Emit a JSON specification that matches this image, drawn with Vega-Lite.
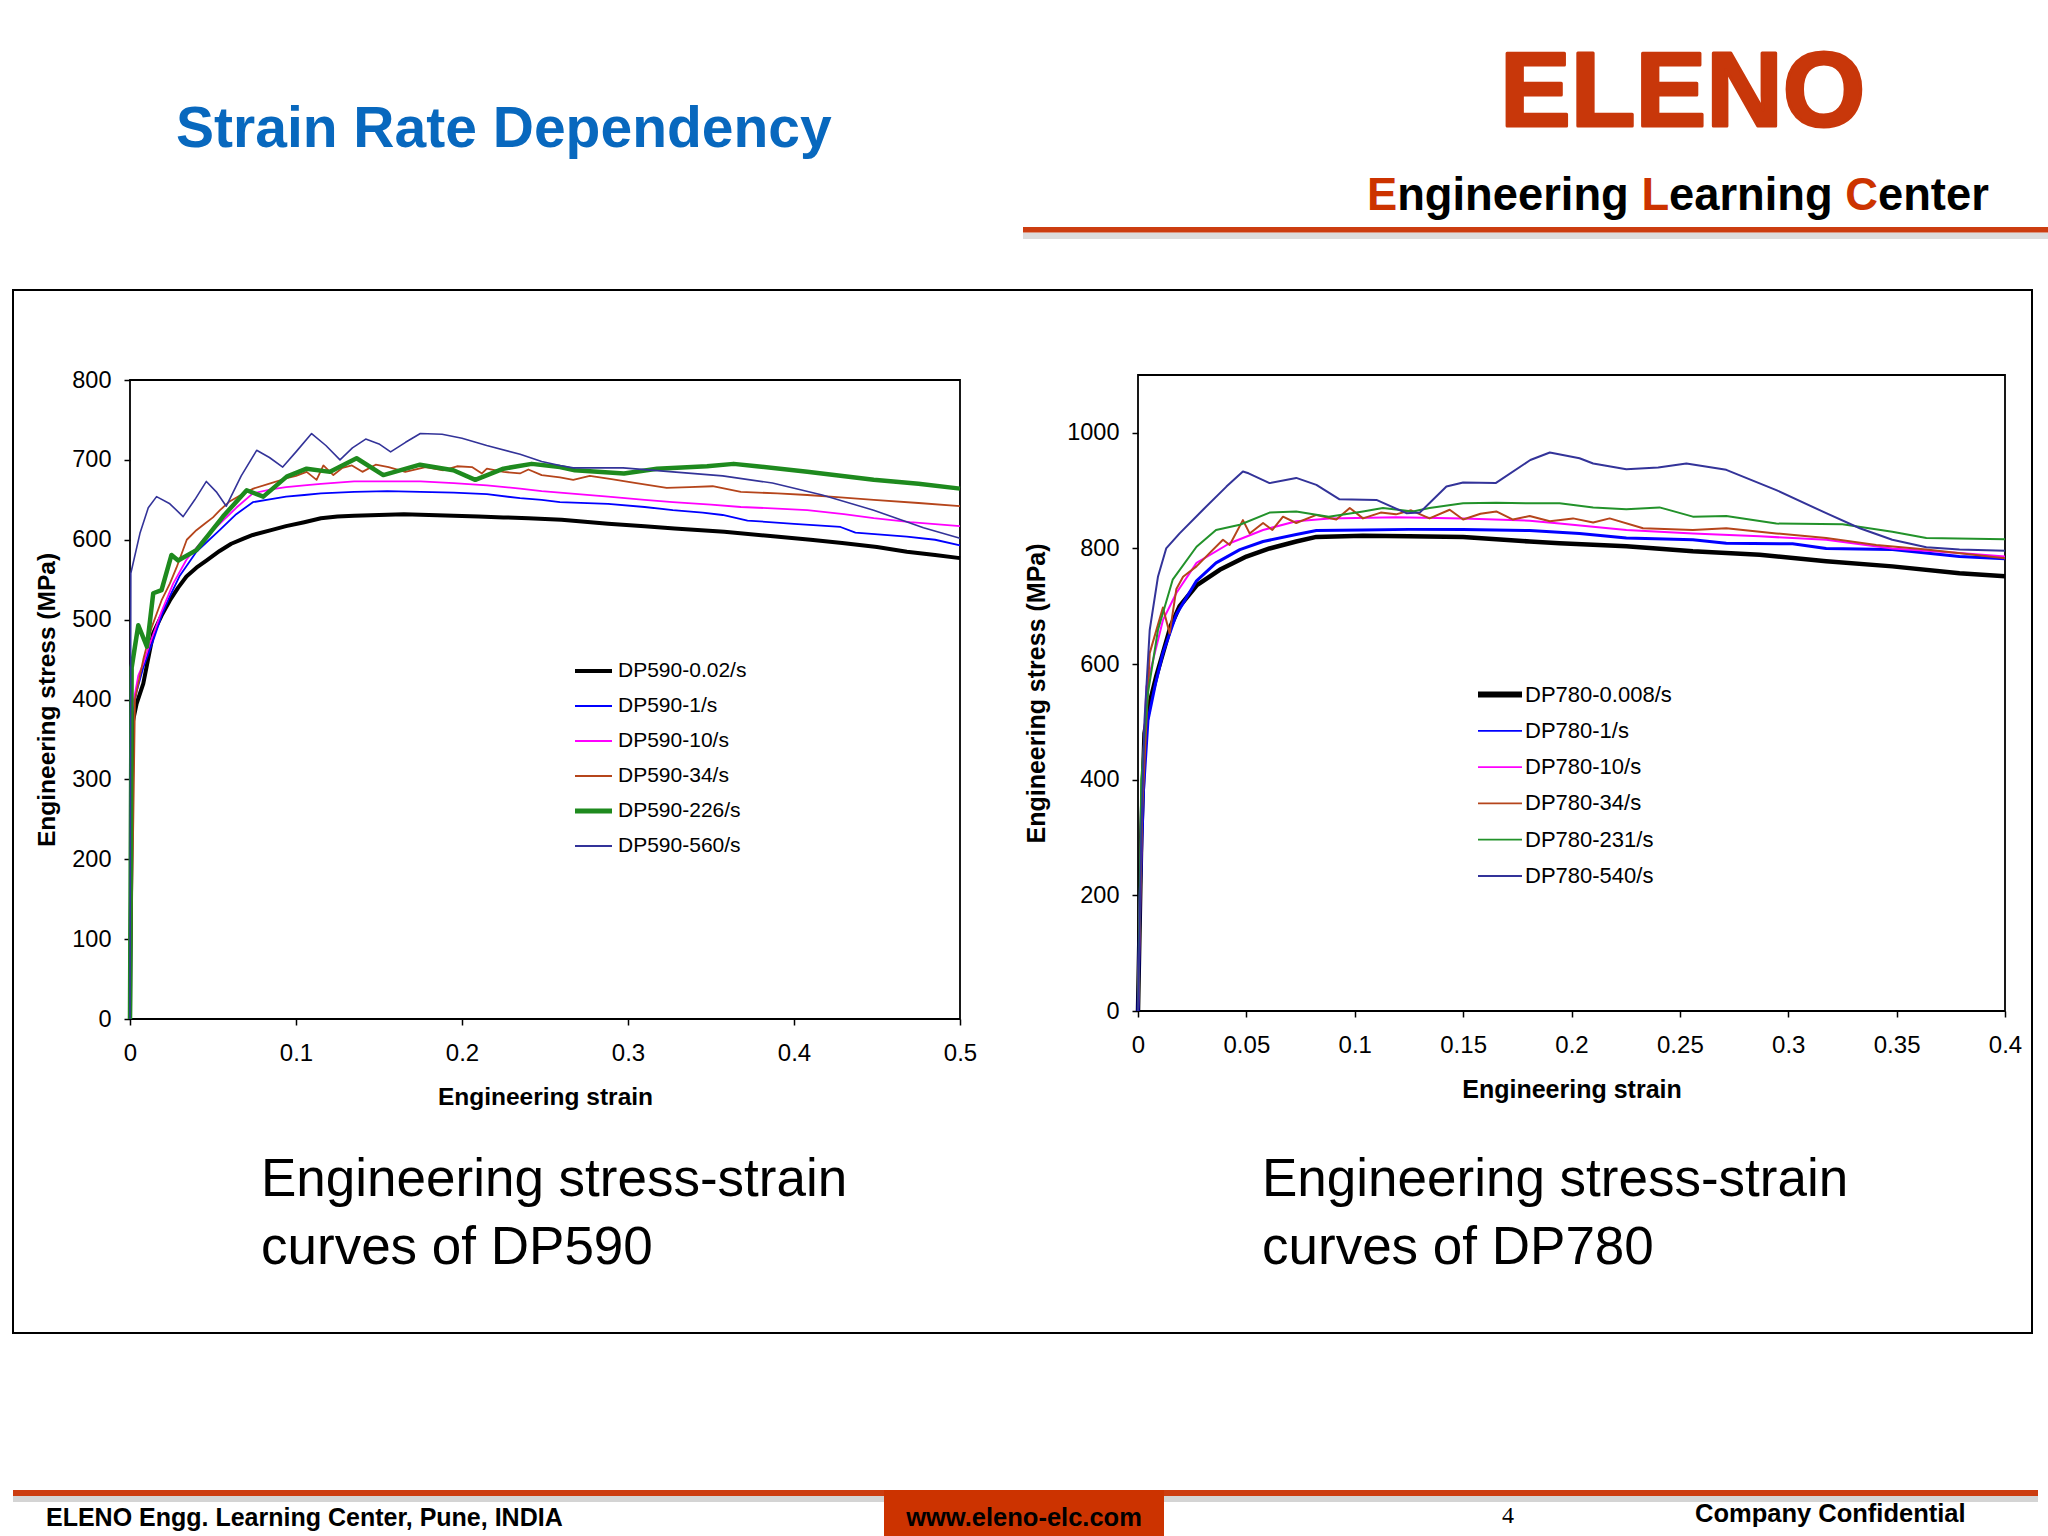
{
"$schema": "https://vega.github.io/schema/vega-lite/v6.json",
"width": 2048, "height": 1536, "autosize": "none", "padding": 0, "background": "white",
"config": {"view": {"stroke": null}, "font": "Liberation Sans"},
"datasets": {
"dp590": [
{"series":"DP590-0.02/s","strain":0,"stress":0},{"series":"DP590-0.02/s","strain":0.0015,"stress":370},{"series":"DP590-0.02/s","strain":0.004,"stress":395},{"series":"DP590-0.02/s","strain":0.008,"stress":420},{"series":"DP590-0.02/s","strain":0.014,"stress":483},{"series":"DP590-0.02/s","strain":0.019,"stress":505},{"series":"DP590-0.02/s","strain":0.024,"stress":524},{"series":"DP590-0.02/s","strain":0.029,"stress":540},{"series":"DP590-0.02/s","strain":0.034,"stress":554},{"series":"DP590-0.02/s","strain":0.04,"stress":565},{"series":"DP590-0.02/s","strain":0.046,"stress":574},{"series":"DP590-0.02/s","strain":0.054,"stress":586},{"series":"DP590-0.02/s","strain":0.061,"stress":595},{"series":"DP590-0.02/s","strain":0.068,"stress":601},{"series":"DP590-0.02/s","strain":0.074,"stress":606},{"series":"DP590-0.02/s","strain":0.085,"stress":612},{"series":"DP590-0.02/s","strain":0.094,"stress":617},{"series":"DP590-0.02/s","strain":0.105,"stress":622},{"series":"DP590-0.02/s","strain":0.115,"stress":627},{"series":"DP590-0.02/s","strain":0.125,"stress":629},{"series":"DP590-0.02/s","strain":0.135,"stress":630},{"series":"DP590-0.02/s","strain":0.15,"stress":631},{"series":"DP590-0.02/s","strain":0.165,"stress":632},{"series":"DP590-0.02/s","strain":0.18,"stress":631},{"series":"DP590-0.02/s","strain":0.195,"stress":630},{"series":"DP590-0.02/s","strain":0.21,"stress":629},{"series":"DP590-0.02/s","strain":0.225,"stress":628},{"series":"DP590-0.02/s","strain":0.24,"stress":627},{"series":"DP590-0.02/s","strain":0.26,"stress":625},{"series":"DP590-0.02/s","strain":0.288,"stress":620},{"series":"DP590-0.02/s","strain":0.31,"stress":617},{"series":"DP590-0.02/s","strain":0.328,"stress":614},{"series":"DP590-0.02/s","strain":0.358,"stress":610},{"series":"DP590-0.02/s","strain":0.389,"stress":604},{"series":"DP590-0.02/s","strain":0.41,"stress":600},{"series":"DP590-0.02/s","strain":0.429,"stress":596},{"series":"DP590-0.02/s","strain":0.45,"stress":591},{"series":"DP590-0.02/s","strain":0.468,"stress":585},{"series":"DP590-0.02/s","strain":0.485,"stress":581},{"series":"DP590-0.02/s","strain":0.5,"stress":577},
{"series":"DP590-1/s","strain":0,"stress":0},{"series":"DP590-1/s","strain":0.001,"stress":380},{"series":"DP590-1/s","strain":0.004,"stress":410},{"series":"DP590-1/s","strain":0.008,"stress":440},{"series":"DP590-1/s","strain":0.014,"stress":474},{"series":"DP590-1/s","strain":0.019,"stress":505},{"series":"DP590-1/s","strain":0.024,"stress":529},{"series":"DP590-1/s","strain":0.03,"stress":555},{"series":"DP590-1/s","strain":0.04,"stress":585},{"series":"DP590-1/s","strain":0.054,"stress":612},{"series":"DP590-1/s","strain":0.064,"stress":632},{"series":"DP590-1/s","strain":0.074,"stress":647},{"series":"DP590-1/s","strain":0.085,"stress":651},{"series":"DP590-1/s","strain":0.094,"stress":654},{"series":"DP590-1/s","strain":0.105,"stress":656},{"series":"DP590-1/s","strain":0.115,"stress":658},{"series":"DP590-1/s","strain":0.135,"stress":660},{"series":"DP590-1/s","strain":0.155,"stress":661},{"series":"DP590-1/s","strain":0.175,"stress":660},{"series":"DP590-1/s","strain":0.195,"stress":659},{"series":"DP590-1/s","strain":0.215,"stress":657},{"series":"DP590-1/s","strain":0.235,"stress":652},{"series":"DP590-1/s","strain":0.248,"stress":650},{"series":"DP590-1/s","strain":0.259,"stress":647},{"series":"DP590-1/s","strain":0.288,"stress":645},{"series":"DP590-1/s","strain":0.31,"stress":641},{"series":"DP590-1/s","strain":0.327,"stress":637},{"series":"DP590-1/s","strain":0.345,"stress":634},{"series":"DP590-1/s","strain":0.357,"stress":631},{"series":"DP590-1/s","strain":0.372,"stress":624},{"series":"DP590-1/s","strain":0.4,"stress":620},{"series":"DP590-1/s","strain":0.428,"stress":616},{"series":"DP590-1/s","strain":0.437,"stress":609},{"series":"DP590-1/s","strain":0.468,"stress":604},{"series":"DP590-1/s","strain":0.485,"stress":600},{"series":"DP590-1/s","strain":0.5,"stress":593},
{"series":"DP590-10/s","strain":0,"stress":0},{"series":"DP590-10/s","strain":0.0015,"stress":390},{"series":"DP590-10/s","strain":0.005,"stress":430},{"series":"DP590-10/s","strain":0.008,"stress":445},{"series":"DP590-10/s","strain":0.012,"stress":470},{"series":"DP590-10/s","strain":0.019,"stress":510},{"series":"DP590-10/s","strain":0.026,"stress":545},{"series":"DP590-10/s","strain":0.034,"stress":575},{"series":"DP590-10/s","strain":0.044,"stress":600},{"series":"DP590-10/s","strain":0.054,"stress":620},{"series":"DP590-10/s","strain":0.064,"stress":640},{"series":"DP590-10/s","strain":0.074,"stress":658},{"series":"DP590-10/s","strain":0.085,"stress":663},{"series":"DP590-10/s","strain":0.094,"stress":666},{"series":"DP590-10/s","strain":0.105,"stress":668},{"series":"DP590-10/s","strain":0.115,"stress":670},{"series":"DP590-10/s","strain":0.135,"stress":673},{"series":"DP590-10/s","strain":0.155,"stress":673},{"series":"DP590-10/s","strain":0.175,"stress":673},{"series":"DP590-10/s","strain":0.195,"stress":671},{"series":"DP590-10/s","strain":0.215,"stress":668},{"series":"DP590-10/s","strain":0.235,"stress":664},{"series":"DP590-10/s","strain":0.248,"stress":661},{"series":"DP590-10/s","strain":0.259,"stress":659},{"series":"DP590-10/s","strain":0.288,"stress":654},{"series":"DP590-10/s","strain":0.31,"stress":650},{"series":"DP590-10/s","strain":0.327,"stress":647},{"series":"DP590-10/s","strain":0.35,"stress":644},{"series":"DP590-10/s","strain":0.368,"stress":641},{"series":"DP590-10/s","strain":0.39,"stress":639},{"series":"DP590-10/s","strain":0.408,"stress":637},{"series":"DP590-10/s","strain":0.43,"stress":632},{"series":"DP590-10/s","strain":0.448,"stress":627},{"series":"DP590-10/s","strain":0.47,"stress":622},{"series":"DP590-10/s","strain":0.5,"stress":617},
{"series":"DP590-34/s","strain":0,"stress":0},{"series":"DP590-34/s","strain":0.002,"stress":250},{"series":"DP590-34/s","strain":0.003,"stress":400},{"series":"DP590-34/s","strain":0.008,"stress":450},{"series":"DP590-34/s","strain":0.013,"stress":490},{"series":"DP590-34/s","strain":0.019,"stress":524},{"series":"DP590-34/s","strain":0.024,"stress":545},{"series":"DP590-34/s","strain":0.028,"stress":565},{"series":"DP590-34/s","strain":0.0342,"stress":600},{"series":"DP590-34/s","strain":0.04,"stress":612},{"series":"DP590-34/s","strain":0.045,"stress":620},{"series":"DP590-34/s","strain":0.05,"stress":628},{"series":"DP590-34/s","strain":0.0542,"stress":637},{"series":"DP590-34/s","strain":0.06,"stress":648},{"series":"DP590-34/s","strain":0.066,"stress":655},{"series":"DP590-34/s","strain":0.0743,"stress":664},{"series":"DP590-34/s","strain":0.085,"stress":671},{"series":"DP590-34/s","strain":0.0944,"stress":677},{"series":"DP590-34/s","strain":0.1,"stress":680},{"series":"DP590-34/s","strain":0.1064,"stress":685},{"series":"DP590-34/s","strain":0.1124,"stress":675},{"series":"DP590-34/s","strain":0.1165,"stress":693},{"series":"DP590-34/s","strain":0.1225,"stress":681},{"series":"DP590-34/s","strain":0.128,"stress":690},{"series":"DP590-34/s","strain":0.1337,"stress":693},{"series":"DP590-34/s","strain":0.14,"stress":685},{"series":"DP590-34/s","strain":0.148,"stress":694},{"series":"DP590-34/s","strain":0.1558,"stress":691},{"series":"DP590-34/s","strain":0.1658,"stress":685},{"series":"DP590-34/s","strain":0.178,"stress":691},{"series":"DP590-34/s","strain":0.1888,"stress":687},{"series":"DP590-34/s","strain":0.197,"stress":692},{"series":"DP590-34/s","strain":0.206,"stress":691},{"series":"DP590-34/s","strain":0.212,"stress":683},{"series":"DP590-34/s","strain":0.215,"stress":689},{"series":"DP590-34/s","strain":0.225,"stress":685},{"series":"DP590-34/s","strain":0.2349,"stress":683},{"series":"DP590-34/s","strain":0.24,"stress":688},{"series":"DP590-34/s","strain":0.248,"stress":681},{"series":"DP590-34/s","strain":0.259,"stress":678},{"series":"DP590-34/s","strain":0.267,"stress":675},{"series":"DP590-34/s","strain":0.277,"stress":680},{"series":"DP590-34/s","strain":0.29,"stress":676},{"series":"DP590-34/s","strain":0.305,"stress":671},{"series":"DP590-34/s","strain":0.3233,"stress":665},{"series":"DP590-34/s","strain":0.337,"stress":666},{"series":"DP590-34/s","strain":0.351,"stress":667},{"series":"DP590-34/s","strain":0.368,"stress":660},{"series":"DP590-34/s","strain":0.39,"stress":658},{"series":"DP590-34/s","strain":0.408,"stress":656},{"series":"DP590-34/s","strain":0.428,"stress":653},{"series":"DP590-34/s","strain":0.448,"stress":650},{"series":"DP590-34/s","strain":0.475,"stress":646},{"series":"DP590-34/s","strain":0.5,"stress":642},
{"series":"DP590-226/s","strain":0,"stress":0},{"series":"DP590-226/s","strain":0.001,"stress":440},{"series":"DP590-226/s","strain":0.005,"stress":493},{"series":"DP590-226/s","strain":0.0102,"stress":466},{"series":"DP590-226/s","strain":0.014,"stress":533},{"series":"DP590-226/s","strain":0.019,"stress":537},{"series":"DP590-226/s","strain":0.025,"stress":581},{"series":"DP590-226/s","strain":0.029,"stress":574},{"series":"DP590-226/s","strain":0.04,"stress":587},{"series":"DP590-226/s","strain":0.048,"stress":608},{"series":"DP590-226/s","strain":0.056,"stress":629},{"series":"DP590-226/s","strain":0.0703,"stress":662},{"series":"DP590-226/s","strain":0.0803,"stress":654},{"series":"DP590-226/s","strain":0.0944,"stress":679},{"series":"DP590-226/s","strain":0.1064,"stress":689},{"series":"DP590-226/s","strain":0.1205,"stress":685},{"series":"DP590-226/s","strain":0.1365,"stress":702},{"series":"DP590-226/s","strain":0.1526,"stress":681},{"series":"DP590-226/s","strain":0.1747,"stress":694},{"series":"DP590-226/s","strain":0.1948,"stress":687},{"series":"DP590-226/s","strain":0.208,"stress":675},{"series":"DP590-226/s","strain":0.225,"stress":689},{"series":"DP590-226/s","strain":0.242,"stress":695},{"series":"DP590-226/s","strain":0.259,"stress":691},{"series":"DP590-226/s","strain":0.268,"stress":687},{"series":"DP590-226/s","strain":0.2976,"stress":683},{"series":"DP590-226/s","strain":0.3175,"stress":689},{"series":"DP590-226/s","strain":0.3476,"stress":692},{"series":"DP590-226/s","strain":0.3637,"stress":695},{"series":"DP590-226/s","strain":0.3775,"stress":692},{"series":"DP590-226/s","strain":0.408,"stress":685},{"series":"DP590-226/s","strain":0.448,"stress":675},{"series":"DP590-226/s","strain":0.475,"stress":670},{"series":"DP590-226/s","strain":0.5,"stress":664},
{"series":"DP590-560/s","strain":0,"stress":0},{"series":"DP590-560/s","strain":0.0005,"stress":558},{"series":"DP590-560/s","strain":0.006,"stress":608},{"series":"DP590-560/s","strain":0.011,"stress":640},{"series":"DP590-560/s","strain":0.016,"stress":654},{"series":"DP590-560/s","strain":0.024,"stress":645},{"series":"DP590-560/s","strain":0.032,"stress":629},{"series":"DP590-560/s","strain":0.039,"stress":650},{"series":"DP590-560/s","strain":0.046,"stress":673},{"series":"DP590-560/s","strain":0.052,"stress":660},{"series":"DP590-560/s","strain":0.058,"stress":642},{"series":"DP590-560/s","strain":0.067,"stress":680},{"series":"DP590-560/s","strain":0.0763,"stress":712},{"series":"DP590-560/s","strain":0.084,"stress":703},{"series":"DP590-560/s","strain":0.092,"stress":691},{"series":"DP590-560/s","strain":0.1,"stress":710},{"series":"DP590-560/s","strain":0.1094,"stress":733},{"series":"DP590-560/s","strain":0.118,"stress":718},{"series":"DP590-560/s","strain":0.1265,"stress":700},{"series":"DP590-560/s","strain":0.134,"stress":715},{"series":"DP590-560/s","strain":0.142,"stress":726},{"series":"DP590-560/s","strain":0.15,"stress":720},{"series":"DP590-560/s","strain":0.157,"stress":710},{"series":"DP590-560/s","strain":0.166,"stress":722},{"series":"DP590-560/s","strain":0.1749,"stress":733},{"series":"DP590-560/s","strain":0.188,"stress":732},{"series":"DP590-560/s","strain":0.2,"stress":727},{"series":"DP590-560/s","strain":0.2149,"stress":718},{"series":"DP590-560/s","strain":0.235,"stress":707},{"series":"DP590-560/s","strain":0.248,"stress":698},{"series":"DP590-560/s","strain":0.259,"stress":693},{"series":"DP590-560/s","strain":0.267,"stress":690},{"series":"DP590-560/s","strain":0.297,"stress":690},{"series":"DP590-560/s","strain":0.327,"stress":685},{"series":"DP590-560/s","strain":0.357,"stress":680},{"series":"DP590-560/s","strain":0.387,"stress":671},{"series":"DP590-560/s","strain":0.417,"stress":656},{"series":"DP590-560/s","strain":0.448,"stress":637},{"series":"DP590-560/s","strain":0.478,"stress":615},{"series":"DP590-560/s","strain":0.5,"stress":602}
],
"dp780": [
{"series":"DP780-0.008/s","strain":0,"stress":0},{"series":"DP780-0.008/s","strain":0.0015,"stress":300},{"series":"DP780-0.008/s","strain":0.003,"stress":480},{"series":"DP780-0.008/s","strain":0.0054,"stress":533},{"series":"DP780-0.008/s","strain":0.0085,"stress":580},{"series":"DP780-0.008/s","strain":0.0115,"stress":619},{"series":"DP780-0.008/s","strain":0.015,"stress":665},{"series":"DP780-0.008/s","strain":0.0192,"stress":700},{"series":"DP780-0.008/s","strain":0.027,"stress":736},{"series":"DP780-0.008/s","strain":0.0377,"stress":763},{"series":"DP780-0.008/s","strain":0.05,"stress":786},{"series":"DP780-0.008/s","strain":0.0607,"stress":800},{"series":"DP780-0.008/s","strain":0.073,"stress":812},{"series":"DP780-0.008/s","strain":0.0823,"stress":820},{"series":"DP780-0.008/s","strain":0.1038,"stress":822},{"series":"DP780-0.008/s","strain":0.125,"stress":821},{"series":"DP780-0.008/s","strain":0.15,"stress":820},{"series":"DP780-0.008/s","strain":0.1653,"stress":816},{"series":"DP780-0.008/s","strain":0.1807,"stress":812},{"series":"DP780-0.008/s","strain":0.1945,"stress":809},{"series":"DP780-0.008/s","strain":0.2253,"stress":804},{"series":"DP780-0.008/s","strain":0.256,"stress":795},{"series":"DP780-0.008/s","strain":0.2868,"stress":789},{"series":"DP780-0.008/s","strain":0.3175,"stress":778},{"series":"DP780-0.008/s","strain":0.348,"stress":769},{"series":"DP780-0.008/s","strain":0.379,"stress":757},{"series":"DP780-0.008/s","strain":0.4,"stress":752},
{"series":"DP780-1/s","strain":0,"stress":0},{"series":"DP780-1/s","strain":0.001,"stress":200},{"series":"DP780-1/s","strain":0.0025,"stress":380},{"series":"DP780-1/s","strain":0.0046,"stress":503},{"series":"DP780-1/s","strain":0.008,"stress":565},{"series":"DP780-1/s","strain":0.0115,"stress":619},{"series":"DP780-1/s","strain":0.0177,"stress":686},{"series":"DP780-1/s","strain":0.027,"stress":744},{"series":"DP780-1/s","strain":0.036,"stress":775},{"series":"DP780-1/s","strain":0.047,"stress":798},{"series":"DP780-1/s","strain":0.0577,"stress":812},{"series":"DP780-1/s","strain":0.073,"stress":824},{"series":"DP780-1/s","strain":0.0823,"stress":831},{"series":"DP780-1/s","strain":0.1038,"stress":832},{"series":"DP780-1/s","strain":0.125,"stress":833},{"series":"DP780-1/s","strain":0.15,"stress":833},{"series":"DP780-1/s","strain":0.1807,"stress":831},{"series":"DP780-1/s","strain":0.2037,"stress":826},{"series":"DP780-1/s","strain":0.2253,"stress":818},{"series":"DP780-1/s","strain":0.256,"stress":815},{"series":"DP780-1/s","strain":0.2714,"stress":809},{"series":"DP780-1/s","strain":0.302,"stress":808},{"series":"DP780-1/s","strain":0.3175,"stress":800},{"series":"DP780-1/s","strain":0.348,"stress":798},{"series":"DP780-1/s","strain":0.379,"stress":786},{"series":"DP780-1/s","strain":0.4,"stress":782},
{"series":"DP780-10/s","strain":0,"stress":0},{"series":"DP780-10/s","strain":0.0015,"stress":350},{"series":"DP780-10/s","strain":0.0039,"stress":561},{"series":"DP780-10/s","strain":0.0115,"stress":676},{"series":"DP780-10/s","strain":0.0177,"stress":723},{"series":"DP780-10/s","strain":0.027,"stress":775},{"series":"DP780-10/s","strain":0.0423,"stress":809},{"series":"DP780-10/s","strain":0.0577,"stress":832},{"series":"DP780-10/s","strain":0.073,"stress":847},{"series":"DP780-10/s","strain":0.0884,"stress":852},{"series":"DP780-10/s","strain":0.119,"stress":854},{"series":"DP780-10/s","strain":0.15,"stress":852},{"series":"DP780-10/s","strain":0.1807,"stress":848},{"series":"DP780-10/s","strain":0.1945,"stress":843},{"series":"DP780-10/s","strain":0.2253,"stress":832},{"series":"DP780-10/s","strain":0.256,"stress":826},{"series":"DP780-10/s","strain":0.2868,"stress":821},{"series":"DP780-10/s","strain":0.3175,"stress":815},{"series":"DP780-10/s","strain":0.348,"stress":800},{"series":"DP780-10/s","strain":0.379,"stress":792},{"series":"DP780-10/s","strain":0.4,"stress":786},
{"series":"DP780-34/s","strain":0,"stress":0},{"series":"DP780-34/s","strain":0.002,"stress":350},{"series":"DP780-34/s","strain":0.0054,"stress":619},{"series":"DP780-34/s","strain":0.0115,"stress":698},{"series":"DP780-34/s","strain":0.0146,"stress":653},{"series":"DP780-34/s","strain":0.0177,"stress":730},{"series":"DP780-34/s","strain":0.0208,"stress":751},{"series":"DP780-34/s","strain":0.027,"stress":769},{"series":"DP780-34/s","strain":0.033,"stress":792},{"series":"DP780-34/s","strain":0.0392,"stress":815},{"series":"DP780-34/s","strain":0.0423,"stress":806},{"series":"DP780-34/s","strain":0.0484,"stress":849},{"series":"DP780-34/s","strain":0.0515,"stress":826},{"series":"DP780-34/s","strain":0.0577,"stress":844},{"series":"DP780-34/s","strain":0.062,"stress":832},{"series":"DP780-34/s","strain":0.0669,"stress":855},{"series":"DP780-34/s","strain":0.073,"stress":844},{"series":"DP780-34/s","strain":0.0823,"stress":858},{"series":"DP780-34/s","strain":0.0915,"stress":850},{"series":"DP780-34/s","strain":0.0977,"stress":870},{"series":"DP780-34/s","strain":0.1038,"stress":852},{"series":"DP780-34/s","strain":0.112,"stress":862},{"series":"DP780-34/s","strain":0.119,"stress":859},{"series":"DP780-34/s","strain":0.126,"stress":866},{"series":"DP780-34/s","strain":0.1345,"stress":852},{"series":"DP780-34/s","strain":0.1438,"stress":867},{"series":"DP780-34/s","strain":0.15,"stress":850},{"series":"DP780-34/s","strain":0.158,"stress":860},{"series":"DP780-34/s","strain":0.1653,"stress":864},{"series":"DP780-34/s","strain":0.173,"stress":850},{"series":"DP780-34/s","strain":0.1807,"stress":856},{"series":"DP780-34/s","strain":0.19,"stress":847},{"series":"DP780-34/s","strain":0.2007,"stress":852},{"series":"DP780-34/s","strain":0.21,"stress":845},{"series":"DP780-34/s","strain":0.2176,"stress":852},{"series":"DP780-34/s","strain":0.233,"stress":835},{"series":"DP780-34/s","strain":0.256,"stress":832},{"series":"DP780-34/s","strain":0.2714,"stress":835},{"series":"DP780-34/s","strain":0.2945,"stress":826},{"series":"DP780-34/s","strain":0.3175,"stress":818},{"series":"DP780-34/s","strain":0.3406,"stress":806},{"series":"DP780-34/s","strain":0.3637,"stress":798},{"series":"DP780-34/s","strain":0.4,"stress":783},
{"series":"DP780-231/s","strain":0,"stress":0},{"series":"DP780-231/s","strain":0.0015,"stress":400},{"series":"DP780-231/s","strain":0.0046,"stress":550},{"series":"DP780-231/s","strain":0.0092,"stress":659},{"series":"DP780-231/s","strain":0.016,"stress":746},{"series":"DP780-231/s","strain":0.027,"stress":803},{"series":"DP780-231/s","strain":0.036,"stress":832},{"series":"DP780-231/s","strain":0.047,"stress":841},{"series":"DP780-231/s","strain":0.0607,"stress":862},{"series":"DP780-231/s","strain":0.073,"stress":864},{"series":"DP780-231/s","strain":0.088,"stress":855},{"series":"DP780-231/s","strain":0.1038,"stress":864},{"series":"DP780-231/s","strain":0.113,"stress":870},{"series":"DP780-231/s","strain":0.1268,"stress":864},{"series":"DP780-231/s","strain":0.1345,"stress":870},{"series":"DP780-231/s","strain":0.15,"stress":878},{"series":"DP780-231/s","strain":0.1653,"stress":879},{"series":"DP780-231/s","strain":0.1807,"stress":878},{"series":"DP780-231/s","strain":0.1945,"stress":878},{"series":"DP780-231/s","strain":0.21,"stress":871},{"series":"DP780-231/s","strain":0.2253,"stress":868},{"series":"DP780-231/s","strain":0.2406,"stress":871},{"series":"DP780-231/s","strain":0.256,"stress":855},{"series":"DP780-231/s","strain":0.2714,"stress":856},{"series":"DP780-231/s","strain":0.2945,"stress":843},{"series":"DP780-231/s","strain":0.325,"stress":842},{"series":"DP780-231/s","strain":0.348,"stress":829},{"series":"DP780-231/s","strain":0.3637,"stress":818},{"series":"DP780-231/s","strain":0.4,"stress":816},
{"series":"DP780-540/s","strain":0,"stress":0},{"series":"DP780-540/s","strain":0.0015,"stress":300},{"series":"DP780-540/s","strain":0.003,"stress":503},{"series":"DP780-540/s","strain":0.0054,"stress":659},{"series":"DP780-540/s","strain":0.0092,"stress":751},{"series":"DP780-540/s","strain":0.013,"stress":800},{"series":"DP780-540/s","strain":0.0192,"stress":826},{"series":"DP780-540/s","strain":0.03,"stress":867},{"series":"DP780-540/s","strain":0.0408,"stress":907},{"series":"DP780-540/s","strain":0.0484,"stress":933},{"series":"DP780-540/s","strain":0.051,"stress":930},{"series":"DP780-540/s","strain":0.0607,"stress":913},{"series":"DP780-540/s","strain":0.073,"stress":922},{"series":"DP780-540/s","strain":0.0823,"stress":910},{"series":"DP780-540/s","strain":0.093,"stress":885},{"series":"DP780-540/s","strain":0.11,"stress":884},{"series":"DP780-540/s","strain":0.1238,"stress":861},{"series":"DP780-540/s","strain":0.13,"stress":862},{"series":"DP780-540/s","strain":0.1423,"stress":907},{"series":"DP780-540/s","strain":0.15,"stress":914},{"series":"DP780-540/s","strain":0.165,"stress":913},{"series":"DP780-540/s","strain":0.181,"stress":953},{"series":"DP780-540/s","strain":0.19,"stress":966},{"series":"DP780-540/s","strain":0.2037,"stress":956},{"series":"DP780-540/s","strain":0.21,"stress":947},{"series":"DP780-540/s","strain":0.2253,"stress":937},{"series":"DP780-540/s","strain":0.24,"stress":940},{"series":"DP780-540/s","strain":0.253,"stress":947},{"series":"DP780-540/s","strain":0.2714,"stress":936},{"series":"DP780-540/s","strain":0.2945,"stress":901},{"series":"DP780-540/s","strain":0.3175,"stress":861},{"series":"DP780-540/s","strain":0.333,"stress":835},{"series":"DP780-540/s","strain":0.348,"stress":815},{"series":"DP780-540/s","strain":0.3637,"stress":802},{"series":"DP780-540/s","strain":0.379,"stress":798},{"series":"DP780-540/s","strain":0.4,"stress":796}
]
},
"layer": [
{"data": {"values": [{}]},
 "layer": [
  {"mark": {"type": "text", "x": 176, "y": 147, "text": "Strain Rate Dependency", "font": "Liberation Sans", "fontWeight": "bold", "fontSize": 57, "fill": "#0868BE", "align": "left", "baseline": "alphabetic"}, "encoding": {}},
  {"mark": {"type": "text", "x": 1500, "y": 126, "text": "ELENO", "font": "Liberation Sans", "fontWeight": "bold", "fontSize": 106, "fill": "#C8370A", "stroke": "#C8370A", "strokeWidth": 3, "strokeJoin": "round", "align": "left", "baseline": "alphabetic"}, "encoding": {}},
  {"mark": {"type": "text", "x": 1367, "y": 210, "text": "E", "font": "Liberation Sans", "fontWeight": "bold", "fontSize": 45.3, "fill": "#CC3300", "align": "left", "baseline": "alphabetic"}, "encoding": {}},
  {"mark": {"type": "text", "x": 1397.2, "y": 210, "text": "ngineering", "font": "Liberation Sans", "fontWeight": "bold", "fontSize": 45.3, "fill": "#000000", "align": "left", "baseline": "alphabetic"}, "encoding": {}},
  {"mark": {"type": "text", "x": 1641.4, "y": 210, "text": "L", "font": "Liberation Sans", "fontWeight": "bold", "fontSize": 45.3, "fill": "#CC3300", "align": "left", "baseline": "alphabetic"}, "encoding": {}},
  {"mark": {"type": "text", "x": 1669.1, "y": 210, "text": "earning", "font": "Liberation Sans", "fontWeight": "bold", "fontSize": 45.3, "fill": "#000000", "align": "left", "baseline": "alphabetic"}, "encoding": {}},
  {"mark": {"type": "text", "x": 1845.3, "y": 210, "text": "C", "font": "Liberation Sans", "fontWeight": "bold", "fontSize": 45.3, "fill": "#CC3300", "align": "left", "baseline": "alphabetic"}, "encoding": {}},
  {"mark": {"type": "text", "x": 1878, "y": 210, "text": "enter", "font": "Liberation Sans", "fontWeight": "bold", "fontSize": 45.3, "fill": "#000000", "align": "left", "baseline": "alphabetic"}, "encoding": {}},
  {"mark": {"type": "rect", "x": 1023, "x2": 2048, "y": 232.5, "y2": 239, "fill": "#dcdcdc"}, "encoding": {}},
  {"mark": {"type": "rect", "x": 1023, "x2": 2048, "y": 227, "y2": 232.5, "fill": "#CC3D10"}, "encoding": {}},
  {"mark": {"type": "rect", "x": 13, "x2": 2032, "y": 290, "y2": 1333, "filled": false, "stroke": "#000000", "strokeWidth": 2}, "encoding": {}},
  {"mark": {"type": "text", "x": 261, "y": 1196, "text": "Engineering stress-strain", "font": "Liberation Sans", "fontSize": 53, "fill": "#000000", "align": "left", "baseline": "alphabetic"}, "encoding": {}},
  {"mark": {"type": "text", "x": 261, "y": 1264, "text": "curves of DP590", "font": "Liberation Sans", "fontSize": 53, "fill": "#000000", "align": "left", "baseline": "alphabetic"}, "encoding": {}},
  {"mark": {"type": "text", "x": 1262, "y": 1196, "text": "Engineering stress-strain", "font": "Liberation Sans", "fontSize": 53, "fill": "#000000", "align": "left", "baseline": "alphabetic"}, "encoding": {}},
  {"mark": {"type": "text", "x": 1262, "y": 1264, "text": "curves of DP780", "font": "Liberation Sans", "fontSize": 53, "fill": "#000000", "align": "left", "baseline": "alphabetic"}, "encoding": {}},
  {"mark": {"type": "rect", "x": 13, "x2": 2038, "y": 1496, "y2": 1502, "fill": "#d4d4d4"}, "encoding": {}},
  {"mark": {"type": "rect", "x": 13, "x2": 2038, "y": 1490, "y2": 1496, "fill": "#CC3D10"}, "encoding": {}},
  {"mark": {"type": "rect", "x": 884, "x2": 1164, "y": 1490, "y2": 1536, "fill": "#CC3300"}, "encoding": {}},
  {"mark": {"type": "text", "x": 46, "y": 1526, "text": "ELENO Engg. Learning Center, Pune, INDIA", "font": "Liberation Sans", "fontWeight": "bold", "fontSize": 25, "fill": "#000000", "align": "left", "baseline": "alphabetic"}, "encoding": {}},
  {"mark": {"type": "text", "x": 1024, "y": 1526, "text": "www.eleno-elc.com", "font": "Liberation Sans", "fontWeight": "bold", "fontSize": 25.5, "fill": "#000000", "align": "center", "baseline": "alphabetic"}, "encoding": {}},
  {"mark": {"type": "text", "x": 1508, "y": 1523, "text": "4", "font": "Liberation Serif", "fontSize": 24, "fill": "#000000", "align": "center", "baseline": "alphabetic"}, "encoding": {}},
  {"mark": {"type": "text", "x": 1695, "y": 1522, "text": "Company Confidential", "font": "Liberation Sans", "fontWeight": "bold", "fontSize": 25.5, "fill": "#000000", "align": "left", "baseline": "alphabetic"}, "encoding": {}}
 ]
},
{"data": {"values": [{}]},
 "mark": {"type": "rect", "filled": false, "stroke": "#000000", "strokeWidth": 1.8},
 "encoding": {
   "x": {"datum": 0, "type": "quantitative", "scale": {"domain": [0, 0.5], "range": [130, 960], "nice": false, "zero": false}, "axis": null},
   "x2": {"datum": 0.5},
   "y": {"datum": 0, "type": "quantitative", "scale": {"domain": [0, 800], "range": [1019, 380], "nice": false, "zero": false}, "axis": null},
   "y2": {"datum": 800}
 }},
{"data": {"name": "dp590"},
 "mark": {"type": "line", "strokeJoin": "round"},
 "encoding": {
   "x": {"field": "strain", "type": "quantitative",
     "scale": {"domain": [0, 0.5], "range": [130, 960], "nice": false, "zero": false},
     "axis": {"orient": "bottom", "offset": -517, "values": [0, 0.1, 0.2, 0.3, 0.4, 0.5], "format": "~g", "title": "Engineering strain", "grid": false, "domain": false, "tickSize": 6, "tickWidth": 1.5, "tickColor": "#000000", "labelFont": "Liberation Sans", "labelFontSize": 24, "labelColor": "#000000", "labelPadding": 16, "labelFlush": false, "labelOverlap": false, "titleFont": "Liberation Sans", "titleFontSize": 24.5, "titleFontWeight": "bold", "titleColor": "#000000", "titlePadding": 20}},
   "y": {"field": "stress", "type": "quantitative",
     "scale": {"domain": [0, 800], "range": [1019, 380], "nice": false, "zero": false},
     "axis": {"orient": "left", "offset": -130, "values": [0, 100, 200, 300, 400, 500, 600, 700, 800], "format": "d", "title": "Engineering stress (MPa)", "grid": false, "domain": false, "tickSize": 6, "tickWidth": 1.5, "tickColor": "#000000", "labelFont": "Liberation Sans", "labelFontSize": 23.5, "labelColor": "#000000", "labelPadding": 13, "labelOverlap": false, "titleFont": "Liberation Sans", "titleFontSize": 24.5, "titleFontWeight": "bold", "titleColor": "#000000", "titlePadding": 12}},
   "color": {"field": "series", "type": "nominal",
     "scale": {"domain": ["DP590-0.02/s", "DP590-1/s", "DP590-10/s", "DP590-34/s", "DP590-226/s", "DP590-560/s"], "range": ["#000000", "#0000FF", "#FF00FF", "#B5451B", "#1E8A1E", "#333399"]},
     "legend": {"orient": "none", "legendX": 575, "legendY": 660, "title": null, "padding": 0, "symbolType": "stroke", "symbolSize": 1369, "symbolStrokeWidth": 2, "clipHeight": 22, "rowPadding": 13, "labelFont": "Liberation Sans", "labelFontSize": 21, "labelColor": "#000000", "labelOffset": 6,
       "encode": {"symbols": {"update": {"x": {"value": 18.5}, "strokeWidth": {"signal": "datum.value === 'DP590-0.02/s' ? 4 : datum.value === 'DP590-226/s' ? 5 : 1.8"}}}, "labels": {"update": {"x": {"value": 43}}}}}},
   "strokeWidth": {"condition": [{"test": "datum.series === 'DP590-0.02/s'", "value": 4}, {"test": "datum.series === 'DP590-226/s'", "value": 4.5}, {"test": "datum.series === 'DP590-560/s'", "value": 1.6}], "value": 1.8}
 }},
{"data": {"values": [{}]},
 "mark": {"type": "rect", "filled": false, "stroke": "#000000", "strokeWidth": 1.8},
 "encoding": {
   "x": {"datum": 0, "type": "quantitative", "scale": {"domain": [0, 0.4], "range": [1138, 2005], "nice": false, "zero": false}, "axis": null},
   "x2": {"datum": 0.4},
   "y": {"datum": 0, "type": "quantitative", "scale": {"domain": [0, 1100], "range": [1011, 375], "nice": false, "zero": false}, "axis": null},
   "y2": {"datum": 1100}
 }},
{"data": {"name": "dp780"},
 "mark": {"type": "line", "strokeJoin": "round"},
 "encoding": {
   "x": {"field": "strain", "type": "quantitative",
     "scale": {"domain": [0, 0.4], "range": [1138, 2005], "nice": false, "zero": false},
     "axis": {"orient": "bottom", "offset": -525, "values": [0, 0.05, 0.1, 0.15, 0.2, 0.25, 0.3, 0.35, 0.4], "format": "~g", "title": "Engineering strain", "grid": false, "domain": false, "tickSize": 6, "tickWidth": 1.5, "tickColor": "#000000", "labelFont": "Liberation Sans", "labelFontSize": 24, "labelColor": "#000000", "labelPadding": 16, "labelFlush": false, "labelOverlap": false, "titleFont": "Liberation Sans", "titleFontSize": 25, "titleFontWeight": "bold", "titleColor": "#000000", "titlePadding": 20}},
   "y": {"field": "stress", "type": "quantitative",
     "scale": {"domain": [0, 1100], "range": [1011, 375], "nice": false, "zero": false},
     "axis": {"orient": "left", "offset": -1138, "values": [0, 200, 400, 600, 800, 1000], "format": "d", "title": "Engineering stress (MPa)", "grid": false, "domain": false, "tickSize": 6, "tickWidth": 1.5, "tickColor": "#000000", "labelFont": "Liberation Sans", "labelFontSize": 23.5, "labelColor": "#000000", "labelPadding": 13, "labelOverlap": false, "titleFont": "Liberation Sans", "titleFontSize": 25, "titleFontWeight": "bold", "titleColor": "#000000", "titlePadding": 17}},
   "color": {"field": "series", "type": "nominal",
     "scale": {"domain": ["DP780-0.008/s", "DP780-1/s", "DP780-10/s", "DP780-34/s", "DP780-231/s", "DP780-540/s"], "range": ["#000000", "#0000FF", "#FF00FF", "#B5451B", "#22922A", "#333399"]},
     "legend": {"orient": "none", "legendX": 1478, "legendY": 683.5, "title": null, "padding": 0, "symbolType": "stroke", "symbolSize": 1936, "symbolStrokeWidth": 2, "clipHeight": 22, "rowPadding": 14.3, "labelFont": "Liberation Sans", "labelFontSize": 22, "labelColor": "#000000", "labelOffset": 3,
       "encode": {"symbols": {"update": {"x": {"value": 22}, "strokeWidth": {"signal": "datum.value === 'DP780-0.008/s' ? 6 : 1.8"}}}, "labels": {"update": {"x": {"value": 47}}}}}},
   "strokeWidth": {"condition": [{"test": "datum.series === 'DP780-0.008/s'", "value": 4.5}, {"test": "datum.series === 'DP780-1/s'", "value": 3}], "value": 2}
 }}
],
"resolve": {"scale": {"x": "independent", "y": "independent", "color": "independent"}, "axis": {"x": "independent", "y": "independent"}, "legend": {"color": "independent"}}
}
